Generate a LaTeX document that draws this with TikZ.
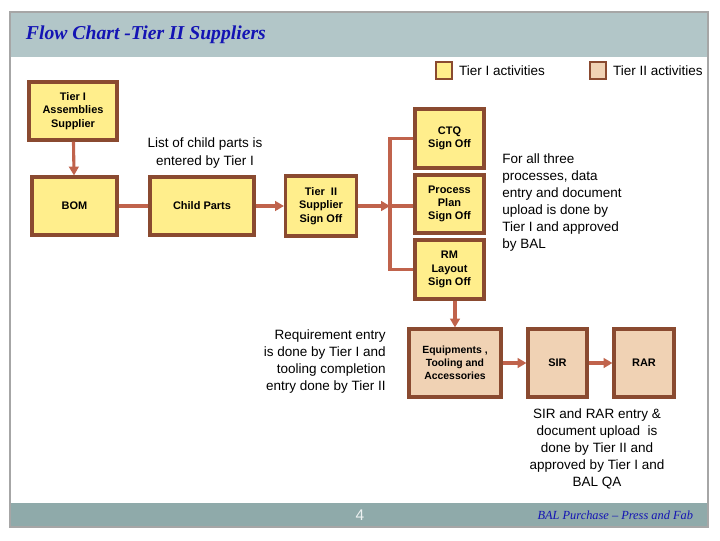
\documentclass[tikz,border=0pt]{standalone}
\usepackage{fontspec}
\setmainfont{Liberation Sans}
\newfontfamily\slideserif{Liberation Serif}
\usetikzlibrary{positioning, calc, arrows.meta}

\definecolor{tieryellow}{HTML}{FFEE8C}
\definecolor{tiertan}{HTML}{F0D2B4}
\definecolor{boxedge}{HTML}{8A4A30}
\definecolor{linkred}{HTML}{C0634C}
\definecolor{bandtop}{HTML}{B2C6C8}
\definecolor{bandfoot}{HTML}{8FAAAA}
\definecolor{titleblue}{HTML}{1414B4}

\begin{document}
\begin{tikzpicture}[
    x=0.025cm, y=-0.025cm,
    stagebox/.style={
        draw=boxedge,
        line width=2.2pt,
        align=center,
        inner sep=1pt,
        font=\fontsize{7.8}{9.4}\selectfont\bfseries
    },
    boxsize/.style 2 args={
        minimum width=#1*0.025cm,
        minimum height=#2*0.025cm
    },
    tierone/.style={stagebox, fill=tieryellow},
    tiertwo/.style={stagebox, fill=tiertan},
    link/.style={
        draw=linkred,
        line width=2.2pt
    },
    arrow/.style={
        link,
        -{Triangle[length=2.2mm, width=2.4mm]}
    },
    note/.style={
        font=\fontsize{9.6}{12.1}\selectfont,
        inner sep=0pt
    }
]

% Slide frame
\useasboundingbox (0,0) rectangle (720,540);
\fill[white] (0,0) rectangle (720,540);
\fill[bandtop] (10,12) rectangle (708,57);
\fill[bandfoot] (10,503) rectangle (708,527);
\draw[gray!70, line width=0.8pt] (10,12) rectangle (708,527);

% Title and footer
\node[anchor=west, text=titleblue, font=\slideserif\fontsize{14}{16}\selectfont\bfseries\itshape]
    (title) at (21,35) {Flow Chart -Tier II Suppliers};
\node[text=white!85!bandfoot, font=\fontsize{11}{13}\selectfont] (pageno) at (360,515) {4};
\node[anchor=east, text=titleblue, font=\slideserif\fontsize{8.8}{10}\selectfont\itshape]
    (footer) at (698,515) {BAL Purchase \textendash{} Press and Fab};

% Legend
\node[tierone, boxsize={16}{17}, line width=1.8pt] (keyone) at (444,70.5) {};
\node[note, right=4pt of keyone] (keyonetext) {Tier I activities};
\node[tiertwo, boxsize={16}{17}, line width=1.8pt] (keytwo) at (598,70.5) {};
\node[note, right=4pt of keytwo] (keytwotext) {Tier II activities};

% Tier I boxes
\node[tierone, boxsize={88}{58}] (supplier) at (73,111) {Tier I\\Assemblies\\Supplier};
\node[tierone, boxsize={85}{58}] (bom) at (74.5,206) {BOM};
\node[tierone, boxsize={104}{58}] (child) at (202,206) {Child Parts};
\node[tierone, boxsize={71}{60}] (signoff) at (321,206) {Tier\ \ II\\Supplier\\Sign Off};
\node[tierone, boxsize={69}{59}] (ctq) at (449.5,138.5) {CTQ\\Sign Off};
\node[tierone, boxsize={69}{58}] (plan) at (449.5,204) {Process\\Plan\\Sign Off};
\node[tierone, boxsize={69}{59}] (rm) at (449.5,269.5) {RM\\Layout\\Sign Off};

% Tier II boxes
\node[tiertwo, boxsize={92}{68}, font=\fontsize{7.4}{9.4}\selectfont\bfseries]
    (equip) at (455,363) {Equipments ,\\Tooling and\\Accessories};
\node[tiertwo, boxsize={59}{68}] (sir) at (557.5,363) {SIR};
\node[tiertwo, boxsize={60}{68}] (rar) at (644,363) {RAR};

% Connectors
\coordinate (fork) at (390,206);
\draw[arrow] (supplier) -- (bom);
\draw[link] (bom) -- (child);
\draw[arrow] (child) -- (signoff);
\draw[arrow] (signoff) -- (fork);
\draw[link] (ctq.west) -- (ctq.west -| fork) -- (rm.west -| fork) -- (rm.west);
\draw[link] (fork) -- (fork -| plan.west);
\draw[arrow] (rm.south -| equip) -- (equip.north);
\draw[arrow] (equip) -- (sir);
\draw[arrow] (sir) -- (rar);

% Notes
\node[note, align=center] (childnote) at (205,153) {List of child parts is\\entered by Tier I};
\node[note, align=left, anchor=north west] (allnote) at (502,153)
    {For all three\\processes, data\\entry and document\\upload is done by\\Tier I and approved\\by BAL};
\node[note, align=right, anchor=north east] (reqnote) at (386,329)
    {Requirement entry\\is done by Tier I and\\tooling completion\\entry done by Tier II};
\node[note, align=center, anchor=north] (sirnote) at (597,408)
    {SIR and RAR entry \&\\document upload\ \ is\\done by Tier II and\\approved by Tier I and\\BAL QA};

\end{tikzpicture}
\end{document}
